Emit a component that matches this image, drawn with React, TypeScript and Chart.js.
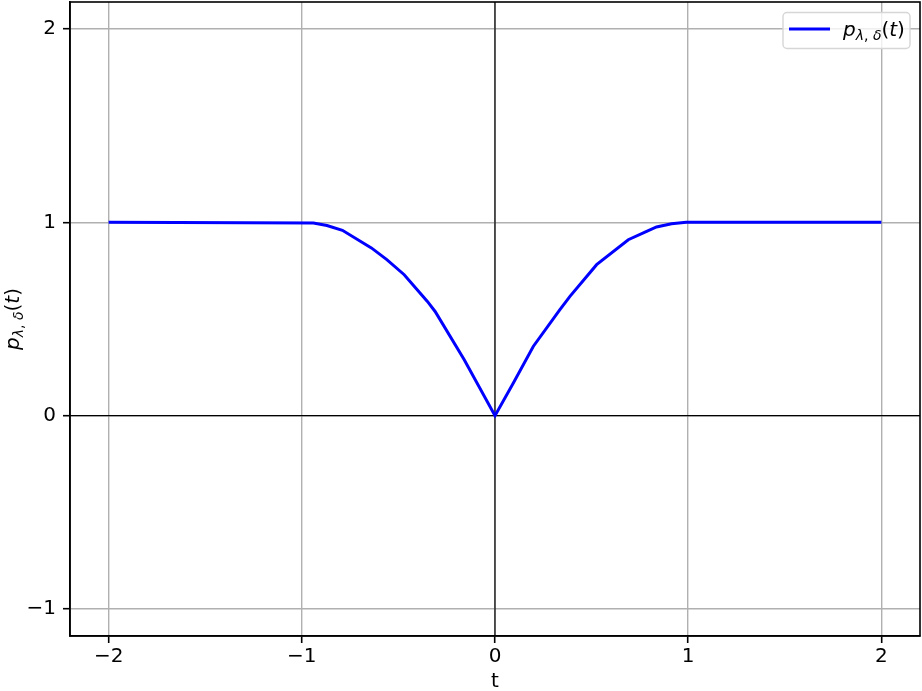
import React, { useEffect, useRef } from "react";
import { Chart, registerables } from "chart.js";

Chart.register(...registerables);

// ---- data ----
const tValues = [-2, -0.94, -0.87, -0.79, -0.64, -0.56, -0.47, -0.35, -0.31, -0.16, 0, 0.095, 0.198, 0.336, 0.388, 0.526, 0.69, 0.785, 0.836, 0.914, 0.99, 2];
const pValues = [1, 0.997, 0.984, 0.959, 0.868, 0.807, 0.729, 0.591, 0.539, 0.29, 0, 0.169, 0.358, 0.548, 0.617, 0.781, 0.91, 0.953, 0.976, 0.993, 1.0, 1];
const xTicks = [-2, -1, 0, 1, 2];
const yTicks = [-1, 0, 1, 2];
const xRange = [-2.2, 2.2];
const yRange = [-1.14, 2.14];
const xTitle = "t";
const seriesName = "p_{λ,δ}(t)";

const FONT = "'DejaVu Sans', sans-serif";
const LINE_COLOR = "#0000ff";

type Seg = { text: string; italic: boolean; sub: boolean };
const mathSegs: Seg[] = [
  { text: "p", italic: true, sub: false },
  { text: "λ", italic: true, sub: true },
  { text: ",", italic: false, sub: true },
  { text: " ", italic: false, sub: true },
  { text: "δ", italic: true, sub: true },
  { text: "(", italic: false, sub: false },
  { text: "t", italic: true, sub: false },
  { text: ")", italic: false, sub: false },
];

function fmt(v: number): string {
  return v < 0 ? "\u2212" + Math.abs(v) : String(v);
}

function segFont(s: Seg, size: number) {
  const sz = s.sub ? size * 0.7 : size;
  return `${s.italic ? "italic " : ""}${sz}px ${FONT}`;
}

function mathWidth(ctx: CanvasRenderingContext2D, size: number) {
  let w = 0;
  for (const s of mathSegs) {
    ctx.font = segFont(s, size);
    w += ctx.measureText(s.text).width;
  }
  return w;
}

// draws math label with left start at x, baseline at y
function drawMath(ctx: CanvasRenderingContext2D, x: number, y: number, size: number) {
  ctx.textBaseline = "alphabetic";
  ctx.textAlign = "left";
  ctx.fillStyle = "#000";
  let cx = x;
  for (const s of mathSegs) {
    ctx.font = segFont(s, size);
    ctx.fillText(s.text, cx, s.sub ? y + size * 0.22 : y);
    cx += ctx.measureText(s.text).width;
  }
}

const framePlugin = {
  id: "frame",
  beforeDatasetsDraw(chart: any) {
    const { ctx, chartArea, scales } = chart;
    const x0 = scales.x.getPixelForValue(0);
    const y0 = scales.y.getPixelForValue(0);
    ctx.save();
    ctx.strokeStyle = "#000";
    ctx.lineWidth = 1.2;
    ctx.beginPath();
    ctx.moveTo(chartArea.left, y0);
    ctx.lineTo(chartArea.right, y0);
    ctx.moveTo(x0, chartArea.top);
    ctx.lineTo(x0, chartArea.bottom);
    ctx.stroke();
    ctx.restore();
  },
  afterDraw(chart: any) {
    const { ctx, chartArea } = chart;
    ctx.save();
    // spines
    ctx.strokeStyle = "#000";
    ctx.lineWidth = 1.6;
    ctx.strokeRect(chartArea.left, chartArea.top, chartArea.right - chartArea.left, chartArea.bottom - chartArea.top);

    // legend
    const lx = 783, ly = 12.5, lw = 127, lh = 36, r = 4;
    ctx.beginPath();
    ctx.moveTo(lx + r, ly);
    ctx.arcTo(lx + lw, ly, lx + lw, ly + lh, r);
    ctx.arcTo(lx + lw, ly + lh, lx, ly + lh, r);
    ctx.arcTo(lx, ly + lh, lx, ly, r);
    ctx.arcTo(lx, ly, lx + lw, ly, r);
    ctx.closePath();
    ctx.fillStyle = "rgba(255,255,255,0.8)";
    ctx.fill();
    ctx.strokeStyle = "#d6d6d6";
    ctx.lineWidth = 1.4;
    ctx.stroke();
    ctx.strokeStyle = LINE_COLOR;
    ctx.lineWidth = 3;
    ctx.beginPath();
    ctx.moveTo(789, 29);
    ctx.lineTo(830, 29);
    ctx.stroke();
    drawMath(ctx, 843, 36, 20);

    // y axis title (rotated)
    const w = mathWidth(ctx, 20);
    ctx.translate(19, (chartArea.top + chartArea.bottom) / 2);
    ctx.rotate(-Math.PI / 2);
    drawMath(ctx, -w / 2, 0, 20);
    ctx.restore();
  },
};

export default function App() {
  const canvasRef = useRef<HTMLCanvasElement | null>(null);

  useEffect(() => {
    const canvas = canvasRef.current;
    if (!canvas) return;
    const points = tValues.map((t, i) => ({ x: t, y: pValues[i] }));
    const chart = new Chart(canvas, {
      type: "scatter",
      data: {
        datasets: [
          {
            label: seriesName,
            data: points,
            showLine: true,
            borderColor: LINE_COLOR,
            backgroundColor: LINE_COLOR,
            borderWidth: 3,
            pointRadius: 0,
            tension: 0,
          },
        ],
      },
      options: {
        animation: false,
        responsive: true,
        maintainAspectRatio: false,
        layout: { padding: { top: 2, right: 2, left: 0, bottom: 0 } },
        plugins: { legend: { display: false }, tooltip: { enabled: false } },
        scales: {
          x: {
            type: "linear",
            min: xRange[0],
            max: xRange[1],
            afterBuildTicks: (scale: any) => {
              scale.ticks = xTicks.map((v) => ({ value: v }));
            },
            afterFit: (scale: any) => {
              scale.height = 55;
              scale.paddingLeft = 0;
              scale.paddingRight = 0;
            },
            ticks: {
              callback: (v: any) => fmt(Number(v)),
              font: { family: FONT, size: 20 },
              color: "#000",
              padding: 2,
              maxRotation: 0,
            },
            grid: {
              color: "#b0b0b0",
              lineWidth: 1.4,
              tickColor: "#000",
              tickLength: 7,
              tickWidth: 1.6,
            },
            border: { display: true, color: "#000", width: 1.6 },
            title: {
              display: true,
              text: xTitle,
              font: { family: FONT, size: 20 },
              color: "#000",
              padding: { top: 0, bottom: -3 },
            },
          },
          y: {
            type: "linear",
            min: yRange[0],
            max: yRange[1],
            afterBuildTicks: (scale: any) => {
              scale.ticks = yTicks.map((v) => ({ value: v }));
            },
            afterFit: (scale: any) => {
              scale.width = 70;
              scale.paddingTop = 0;
              scale.paddingBottom = 0;
            },
            ticks: {
              callback: (v: any) => fmt(Number(v)),
              font: { family: FONT, size: 20 },
              color: "#000",
              padding: 7,
            },
            grid: {
              color: "#b0b0b0",
              lineWidth: 1.4,
              tickColor: "#000",
              tickLength: 7,
              tickWidth: 1.6,
            },
            border: { display: true, color: "#000", width: 1.6 },
          },
        },
      },
      plugins: [framePlugin],
    });
    return () => chart.destroy();
  }, []);

  return (
    <div style={{ position: "absolute", left: 0, top: 0, width: 922, height: 691, background: "#fff" }}>
      <canvas ref={canvasRef} />
    </div>
  );
}
